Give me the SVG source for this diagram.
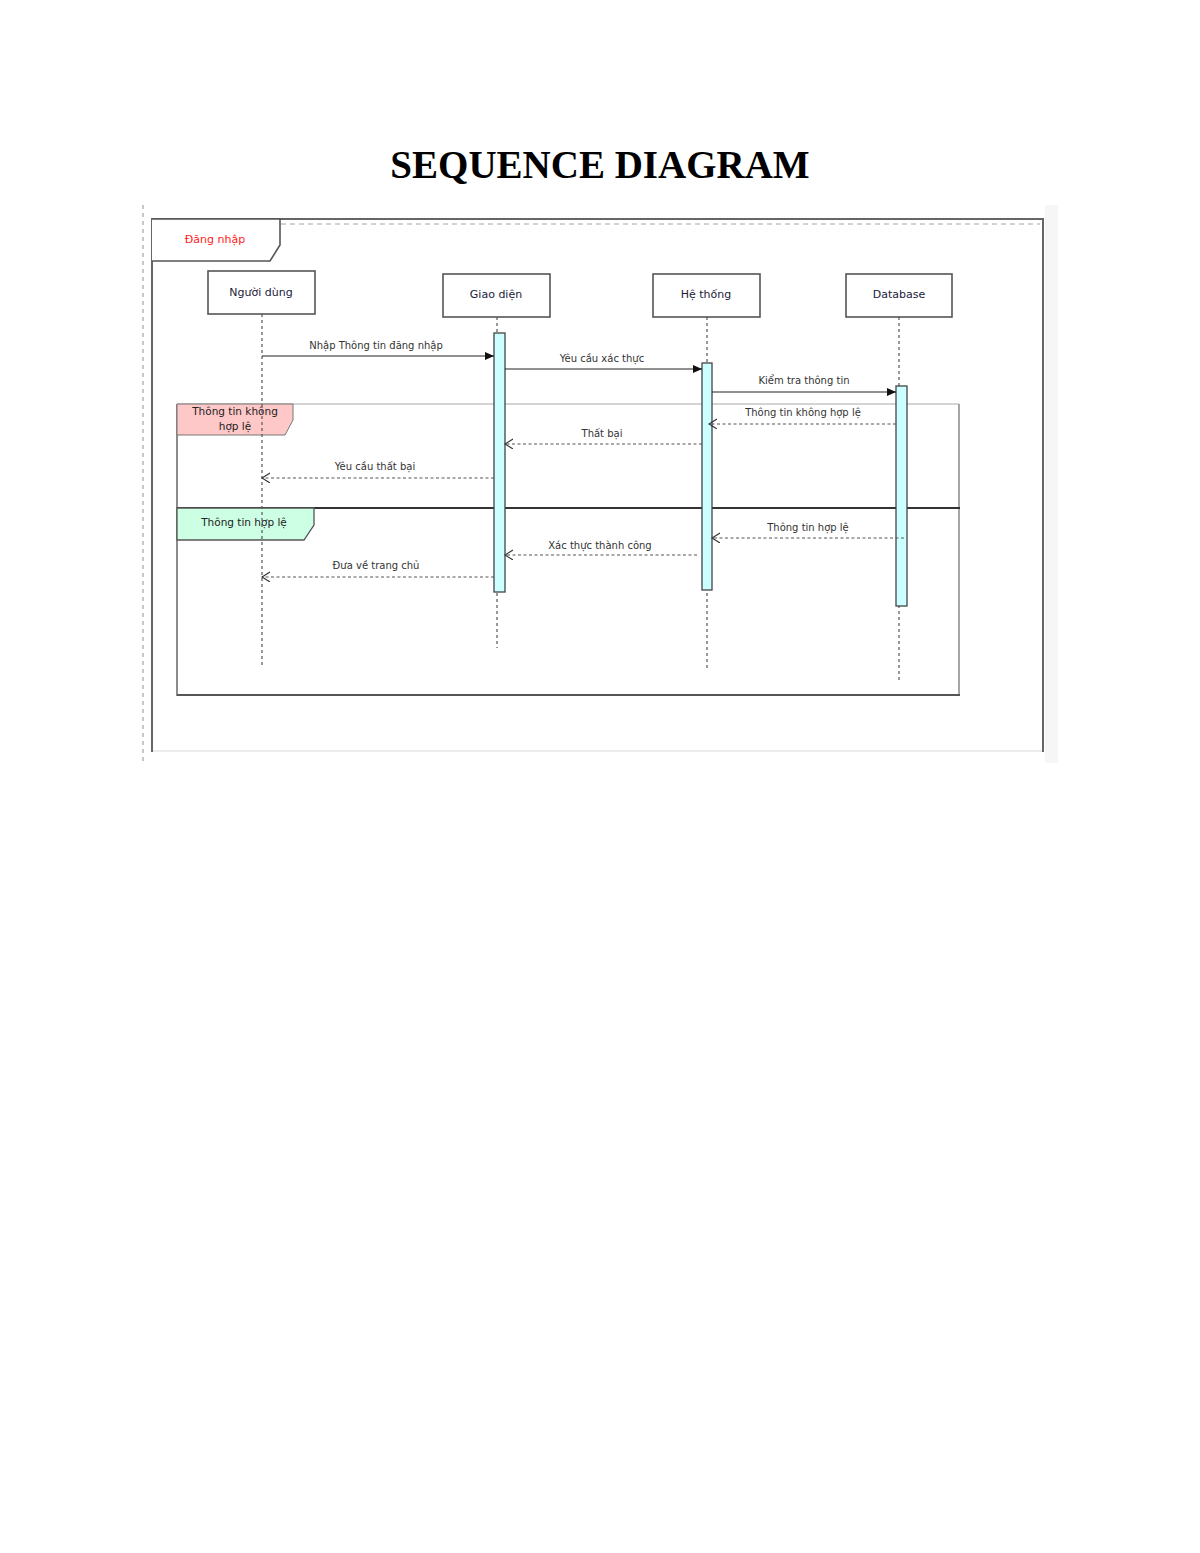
<svg xmlns="http://www.w3.org/2000/svg" width="1200" height="1553" viewBox="0 0 1200 1553">
<style>
.title{font-family:"Liberation Serif","Times New Roman",serif;font-weight:bold;font-size:39px;fill:#000}
.node rect{fill:#fff;stroke:#555;stroke-width:1.6}
.node text{font-family:"DejaVu Sans","Liberation Sans",sans-serif;font-size:11px;fill:#1a1a3a;text-anchor:middle}
.life{stroke:#555;stroke-width:1.2;stroke-dasharray:3,3;fill:none}
.act{fill:#ccffff;stroke:#444;stroke-width:1.3}
.msg{stroke:#222;stroke-width:1.1;fill:none}
.ret{stroke:#555;stroke-width:1;stroke-dasharray:3,2.5;fill:none}
.lbl{font-family:"DejaVu Sans","Liberation Sans",sans-serif;font-size:10px;fill:#333;text-anchor:middle}
.glbl{font-family:"DejaVu Sans","Liberation Sans",sans-serif;font-size:10.5px;fill:#222;text-anchor:middle}
</style>
<defs>
<marker id="sync" markerWidth="10" markerHeight="10" refX="9" refY="4" orient="auto" markerUnits="userSpaceOnUse">
<path d="M0,0 L9,4 L0,8 Z" fill="#111"/>
</marker>
<marker id="open" markerWidth="12" markerHeight="12" refX="8" refY="5" orient="auto" markerUnits="userSpaceOnUse">
<path d="M0,0 L8,5 L0,10" fill="none" stroke="#333" stroke-width="1.1"/>
</marker>
</defs>
<rect width="1200" height="1553" fill="#fff"/>
<text class="title" x="600" y="178" text-anchor="middle">SEQUENCE DIAGRAM</text>

<g id="canvas">
<rect x="1045" y="205" width="13" height="558" fill="#f6f6f6"/>
<line x1="143" y1="205" x2="143" y2="765" stroke="#c8c8c8" stroke-width="2" stroke-dasharray="4,4"/>
<line x1="152" y1="751" x2="1043" y2="751" stroke="#e6e6e6" stroke-width="1.5"/>
</g>

<g id="frame">
<path d="M152,752 L152,219 L1043,219 L1043,752" fill="none" stroke="#666" stroke-width="2"/>
<line x1="281" y1="224" x2="1040" y2="224" stroke="#c4c4c4" stroke-width="1.5" stroke-dasharray="5,4"/>
<path d="M152,219 L280,219 L280,245 L270,261 L152,261" fill="#fff" stroke="#555" stroke-width="1.6"/>
<text x="215" y="243" font-family="DejaVu Sans, Liberation Sans, sans-serif" font-size="11" fill="#ff1a1a" text-anchor="middle">Đăng nhập</text>
</g>

<g id="alt">
<line x1="177" y1="404" x2="959" y2="404" stroke="#aaa" stroke-width="1.2"/>
<line x1="177" y1="404" x2="177" y2="696" stroke="#666" stroke-width="1.5"/>
<line x1="959" y1="404" x2="959" y2="696" stroke="#888" stroke-width="1.5"/>
<line x1="177" y1="695" x2="960" y2="695" stroke="#555" stroke-width="2"/>
<line x1="177" y1="508" x2="960" y2="508" stroke="#333" stroke-width="2"/>
<g id="guard1">
<path d="M177,404 L293,404 L293,420 L285,435 L177,435 Z" fill="#ffc8c8" stroke="#777" stroke-width="1"/>
<text class="glbl" x="235" y="415">Thông tin không</text>
<text class="glbl" x="235" y="430">hợp lệ</text>
</g>
<g id="guard2">
<path d="M177,508 L314,508 L314,525 L304,540 L177,540 Z" fill="#ccffe4" stroke="#555" stroke-width="1.3"/>
<text class="glbl" x="244" y="526">Thông tin hợp lệ</text>
</g>
</g>

<g id="lifelines">
<line class="life" x1="262" y1="314" x2="262" y2="666"/>
<line class="life" x1="497" y1="317" x2="497" y2="648"/>
<line class="life" x1="707" y1="317" x2="707" y2="668"/>
<line class="life" x1="899" y1="317" x2="899" y2="681"/>
</g>

<g id="n-nguoidung" class="node">
<rect x="208" y="271" width="107" height="43"/>
<text x="261" y="296">Người dùng</text>
</g>
<g id="n-giaodien" class="node">
<rect x="443" y="274" width="107" height="43"/>
<text x="496" y="298">Giao diện</text>
</g>
<g id="n-hethong" class="node">
<rect x="653" y="274" width="107" height="43"/>
<text x="706" y="298">Hệ thống</text>
</g>
<g id="n-database" class="node">
<rect x="846" y="274" width="106" height="43"/>
<text x="899" y="298">Database</text>
</g>

<g id="activations">
<rect class="act" x="494" y="333" width="11" height="259"/>
<rect class="act" x="702" y="363" width="10" height="227"/>
<rect class="act" x="896" y="386" width="11" height="220"/>
</g>

<g id="connectors">
<line class="msg" x1="262" y1="356" x2="494" y2="356" marker-end="url(#sync)"/>
<text class="lbl" x="376" y="349">Nhập Thông tin đăng nhập</text>
<line class="msg" x1="505" y1="369" x2="702" y2="369" marker-end="url(#sync)"/>
<text class="lbl" x="602" y="362">Yêu cầu xác thực</text>
<line class="msg" x1="712" y1="392" x2="896" y2="392" marker-end="url(#sync)"/>
<text class="lbl" x="804" y="384">Kiểm tra thông tin</text>
<line class="ret" x1="896" y1="424" x2="709" y2="424" marker-end="url(#open)"/>
<text class="lbl" x="803" y="416">Thông tin không hợp lệ</text>
<line class="ret" x1="702" y1="444" x2="505" y2="444" marker-end="url(#open)"/>
<text class="lbl" x="602" y="437">Thất bại</text>
<line class="ret" x1="494" y1="478" x2="262" y2="478" marker-end="url(#open)"/>
<text class="lbl" x="375" y="470">Yêu cầu thất bại</text>
<line class="ret" x1="904" y1="538" x2="712" y2="538" marker-end="url(#open)"/>
<text class="lbl" x="808" y="531">Thông tin hợp lệ</text>
<line class="ret" x1="697" y1="555" x2="505" y2="555" marker-end="url(#open)"/>
<text class="lbl" x="600" y="549">Xác thực thành công</text>
<line class="ret" x1="494" y1="577" x2="262" y2="577" marker-end="url(#open)"/>
<text class="lbl" x="376" y="569">Đưa về trang chủ</text>
</g>
</svg>
